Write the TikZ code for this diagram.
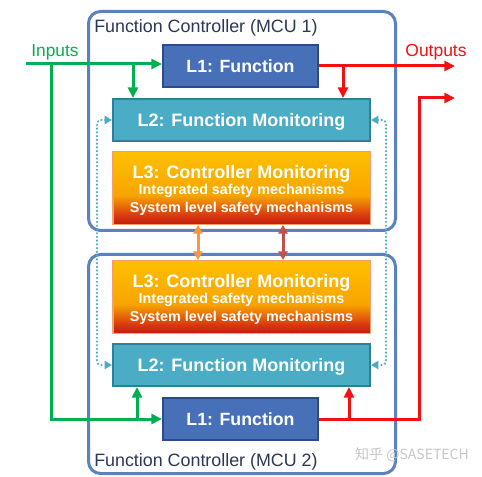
\documentclass[tikz,border=0pt]{standalone}
\usepackage{fontspec}
\setmainfont{Liberation Sans}
\newfontfamily\cjkfont{Noto Sans CJK SC}
\usetikzlibrary{arrows.meta,shadings}
\definecolor{mcublue}{HTML}{5B82BE}
\definecolor{titlec}{HTML}{2B3856}
\definecolor{l1fill}{HTML}{4870B8}
\definecolor{l1border}{HTML}{2B4C8A}
\definecolor{l2fill}{HTML}{4BACC6}
\definecolor{l2border}{HTML}{2E7F98}
\definecolor{l3border}{HTML}{F2A070}
\definecolor{l3red}{HTML}{C41C0C}
\definecolor{l3red2}{HTML}{D83810}
\definecolor{l3orange}{HTML}{F8A400}
\definecolor{l3yellow}{HTML}{FFC000}
\definecolor{ingreen}{HTML}{00B050}
\definecolor{outred}{HTML}{F41010}
\definecolor{linkorange}{HTML}{F79646}
\definecolor{linkred}{HTML}{C0504D}
\definecolor{dotteal}{HTML}{4BACC6}
\pgfdeclareverticalshading{lthree}{100bp}{color(0bp)=(l3red); color(25bp)=(l3red); color(31bp)=(l3red2); color(45bp)=(l3orange); color(75bp)=(l3yellow); color(100bp)=(l3yellow)}
\begin{document}
\begin{tikzpicture}[x=0.75pt,y=-0.75pt,
  container/.style={draw=mcublue, line width=2.25pt, rounded corners=9pt,
    minimum width=230.25pt, minimum height=164.25pt, inner sep=0pt},
  lonebox/.style={draw=l1border, fill=l1fill, line width=1.5pt,
    minimum width=116.25pt, minimum height=31.5pt, inner sep=0pt, text=white,
    text height=9.6pt, text depth=0pt,
    font=\bfseries\fontsize{13.3}{16}\selectfont},
  ltwobox/.style={draw=l2border, fill=l2fill, line width=1.5pt,
    minimum width=192.75pt, minimum height=31.5pt, inner sep=0pt, text=white,
    text height=9.7pt, text depth=0pt,
    font=\bfseries\fontsize{13.5}{16}\selectfont},
  lthreebox/.style={draw=l3border, line width=1pt, shade, shading=lthree,
    minimum width=193pt, minimum height=54.5pt, inner sep=0pt, text=white,
    align=center, font=\bfseries\fontsize{10.75}{13.4}\selectfont},
  titletext/.style={anchor=west, inner sep=0pt, text=titlec,
    font=\fontsize{13.4}{16}\selectfont},
  greenarrow/.style={draw=ingreen, line width=2.25pt,
    -{Triangle[length=8pt,width=7.5pt]}},
  redarrow/.style={draw=outred, line width=2.25pt,
    -{Triangle[length=8pt,width=7.5pt]}},
  linkarrow/.style={line width=2.25pt,
    {Triangle[length=6.5pt,width=7pt]}-{Triangle[length=6.5pt,width=7pt]}},
  dotarrow/.style={draw=dotteal, line width=1.8pt, dash pattern=on 0pt off 2.8pt,
    line cap=round, rounded corners=3pt,
    {Triangle[length=5.5pt,width=6pt]}-{Triangle[length=5.5pt,width=6pt]}},
]
\useasboundingbox[fill=white] (0,0) rectangle (482,477);

% containers
\node[container] (mcu1) at (242,121) {};
\node[container] (mcu2) at (242,364) {};
\node[titletext] (t1) at (94,27.5) {Function Controller (MCU 1)};
\node[titletext] (t2) at (94,461.5) {Function Controller (MCU 2)};

% blocks of MCU 1
\node[lonebox] (l1a) at (240.5,66) {L1: Function};
\node[ltwobox] (l2a) at (241.5,120) {L2: Function Monitoring};
\node[lthreebox] (l3a) at (241.5,188) {{\fontsize{13.5}{16}\selectfont\rule{0pt}{13.6pt}L3: Controller Monitoring}\\[-1.6pt]Integrated safety mechanisms\\System level safety mechanisms};

% blocks of MCU 2
\node[lthreebox] (l3b) at (241.5,297) {{\fontsize{13.5}{16}\selectfont\rule{0pt}{13.6pt}L3: Controller Monitoring}\\[-1.6pt]Integrated safety mechanisms\\System level safety mechanisms};
\node[ltwobox] (l2b) at (241.5,365) {L2: Function Monitoring};
\node[lonebox] (l1b) at (240.5,419) {L1: Function};

% labels
\node[text=ingreen, font=\fontsize{13}{16}\selectfont] (inlab) at (55,52) {Inputs};
\node[text=outred, font=\fontsize{13.1}{16}\selectfont] (outlab) at (436,52) {Outputs};

% inputs
\coordinate (inL) at (26,64);
\coordinate (gb1) at (133,64);
\coordinate (gv) at (51,64);
\coordinate (gvb) at (51,419);
\coordinate (gb2) at (137,419);
\draw[greenarrow] (inL) -- (inL -| l1a.west);
\draw[greenarrow] (gb1) -- (gb1 |- l2a.north);
\draw[greenarrow] (gv) -- (gvb) -- (gvb -| l1b.west);
\draw[greenarrow] (gb2) -- (gb2 |- l2b.south);

% outputs
\coordinate (outA) at (455,66);
\coordinate (rb1) at (343,66);
\coordinate (rc) at (419,419);
\coordinate (rd) at (419,98);
\coordinate (outB) at (455,98);
\coordinate (rb2) at (349,419);
\draw[redarrow] (l1a.east) -- (outA);
\draw[redarrow] (rb1) -- (rb1 |- l2a.north);
\draw[redarrow] (l1b.east) -- (rc) -- (rd) -- (outB);
\draw[redarrow] (rb2) -- (rb2 |- l2b.south);

% L3 links
\coordinate (lo) at (198,0);
\coordinate (lr) at (283,0);
\draw[linkarrow, draw=linkorange, fill=linkorange] (l3a.south -| lo) -- (l3b.north -| lo);
\draw[linkarrow, draw=linkred, fill=linkred] (l3a.south -| lr) -- (l3b.north -| lr);

% dotted L2 links
\coordinate (dl) at (97,0);
\coordinate (dr) at (386,0);
\draw[dotarrow] (l2a.west) -- (l2a.west -| dl) -- (l2b.west -| dl) -- (l2b.west);
\draw[dotarrow] (l2a.east) -- (l2a.east -| dr) -- (l2b.east -| dr) -- (l2b.east);

% watermark
\node[text=black!22, font=\cjkfont\fontsize{10.5}{12}\selectfont] (wm) at (412,455) {知乎 @SASETECH};
\end{tikzpicture}
\end{document}
